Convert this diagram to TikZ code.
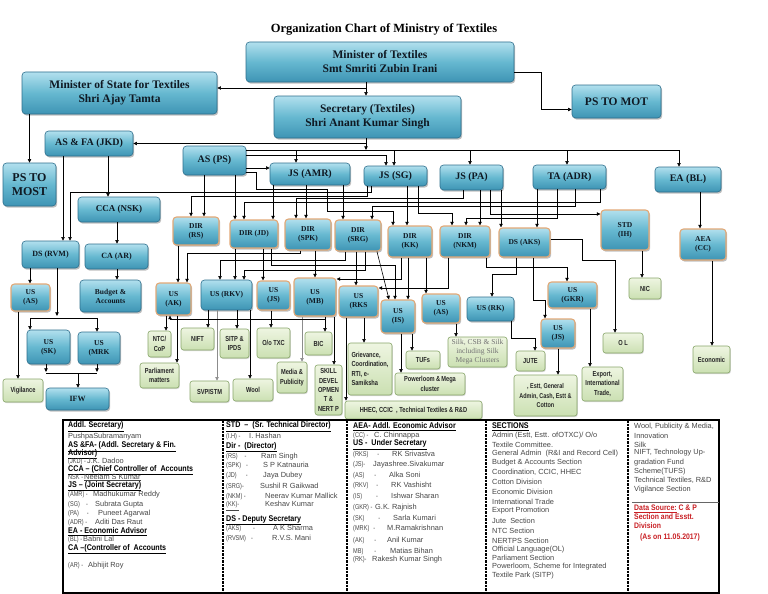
\documentclass[tikz,border=0pt]{standalone}
\usepackage{fontspec}
\setmainfont{Liberation Serif}
\newfontfamily\lsans{Liberation Sans}
\newfontfamily\gfont[FakeStretch=0.78]{Liberation Sans}
\newfontfamily\hfont[FakeStretch=0.86]{Liberation Sans}
\newfontfamily\lnarrow[FakeStretch=0.8]{Liberation Sans}
\usetikzlibrary{arrows.meta,shadows}
\definecolor{bT}{RGB}{178,224,238}
\definecolor{bM}{RGB}{102,184,208}
\definecolor{bB}{RGB}{62,148,180}
\definecolor{bD}{RGB}{45,110,140}
\definecolor{oB}{RGB}{226,168,118}
\definecolor{gT}{RGB}{238,245,225}
\definecolor{gB}{RGB}{203,224,178}
\definecolor{gD}{RGB}{135,165,105}
\definecolor{lgray}{RGB}{70,70,70}
\definecolor{dred}{RGB}{200,30,35}
\definecolor{txt}{RGB}{15,25,35}
\newcommand\legrow[3]{\makebox[#1pt][l]{\lnarrow\fontsize{7}{8}\selectfont #2}#3}
\begin{document}
\begin{tikzpicture}[x=1pt,y=-1pt,
 wh/.style 2 args={minimum width=#1pt,minimum height=#2pt},
 bb/.style={rounded corners=3.5pt, draw=bD, line width=0.6pt, top color=bT, bottom color=bB, middle color=bM, inner sep=1pt, align=center, text=txt, font=\bfseries\fontsize{7.5}{9}\selectfont, drop shadow={shadow xshift=1.2pt,shadow yshift=-1.6pt,opacity=0.5}},
 ob/.style={bb, draw=oB, line width=1.1pt},
 gb/.style={rounded corners=2.5pt, draw=gD, line width=0.6pt, top color=gT, bottom color=gB, inner sep=0.5pt, align=center, text=black!85, font=\gfont\bfseries\fontsize{7.3}{9.3}\selectfont, drop shadow={shadow xshift=0.8pt,shadow yshift=-1pt,opacity=0.3}},
 fbig/.style={font=\bfseries\fontsize{11.5}{14}\selectfont},
 fmed/.style={font=\bfseries\fontsize{10}{12}\selectfont},
 arr/.style={-{Triangle[length=3.6pt,width=3.4pt]}, line width=0.6pt},
 ln/.style={line width=0.6pt},
 gl/.style={arr, draw=black!45},
 lt/.style={anchor=west, inner sep=0pt, text=lgray, font=\lsans\fontsize{7.4}{8}\selectfont},
 lh/.style={anchor=west, inner sep=0pt, text=black, font=\hfont\bfseries\fontsize{8.3}{9}\selectfont},
 lr/.style={lh, text=dred, font=\hfont\bfseries\fontsize{8}{9}\selectfont},
]
\useasboundingbox (0,0) rectangle (768,594);

\node[font=\bfseries\fontsize{12.5}{15}\selectfont] (title) at (384,29) {Organization Chart of Ministry of Textiles};

% top level
\node[bb,fbig,wh={268}{40}] (min) at (380,62) {Minister of Textiles\\Smt Smriti Zubin Irani};
\node[bb,fbig,wh={195}{42}] (mos) at (119.5,93) {Minister of State for Textiles\\Shri Ajay Tamta};
\node[bb,fbig,wh={187}{42}] (sec) at (367.5,117) {Secretary (Textiles)\\Shri Anant Kumar Singh};
\node[bb,fbig,wh={89}{33}] (psmot) at (616.5,101.5) {PS TO MOT};
\node[bb,font=\bfseries\fontsize{12}{14}\selectfont,wh={53}{43}] (psmost) at (29.5,184.5) {PS TO\\MOST};
\node[bb,fmed,wh={88}{25}] (asfa) at (89,143.5) {AS \& FA (JKD)};
\node[bb,fmed,wh={63}{29}] (asps) at (214.5,160.5) {AS (PS)};
\node[bb,fmed,wh={80}{22}] (jsamr) at (310,174) {JS (AMR)};
\node[bb,fmed,wh={63}{20}] (jssg) at (395.5,176) {JS (SG)};
\node[bb,fmed,wh={63}{25}] (jspa) at (471.5,177.5) {JS (PA)};
\node[bb,fmed,wh={73}{24}] (taadr) at (569.5,177) {TA (ADR)};
\node[bb,fmed,wh={66}{25}] (eabl) at (688,179.5) {EA (BL)};

% left group
\node[bb,font=\bfseries\fontsize{9}{11}\selectfont,wh={82}{25}] (ccansk) at (119,209.5) {CCA (NSK)};
\node[bb,font=\bfseries\fontsize{8}{10}\selectfont,wh={57}{27}] (dsrvm) at (50.5,254.5) {DS (RVM)};
\node[bb,font=\bfseries\fontsize{8}{10}\selectfont,wh={63}{25}] (caar) at (116.5,256.5) {CA (AR)};
\node[bb,wh={61}{32}] (budget) at (110.5,296) {Budget \&\\Accounts};
\node[ob,wh={39}{27}] (usasl) at (30.5,297.5) {US\\(AS)};
\node[bb,wh={43}{34}] (ussk) at (48.5,347) {US\\(SK)};
\node[bb,wh={42}{32}] (usmrk) at (99,348) {US\\(MRK};
\node[bb,font=\bfseries\fontsize{8}{10}\selectfont,wh={63}{22}] (ifw) at (77.5,399) {IFW};

% DIR row
\node[ob,wh={46}{28}] (dirrs) at (196,231) {DIR\\(RS)};
\node[ob,wh={48}{28}] (dirjd) at (254,234) {DIR (JD)};
\node[ob,wh={46}{31}] (dirspk) at (308,234.5) {DIR\\(SPK)};
\node[ob,wh={46}{31}] (dirsrg) at (358,235.5) {DIR\\(SRG)};
\node[ob,wh={44}{31}] (dirkk) at (410,241.5) {DIR\\(KK)};
\node[ob,wh={50}{31}] (dirnkm) at (465,241.5) {DIR\\(NKM)};
\node[ob,wh={51}{29}] (dsaks) at (524.5,242.5) {DS (AKS)};
\node[ob,wh={48}{40}] (stdih) at (625,230) {STD\\(IH)};
\node[ob,wh={46}{31}] (aeacc) at (703,244.5) {AEA\\(CC)};

% US row
\node[ob,wh={35}{32}] (usak) at (173.5,299) {US\\(AK)};
\node[bb,wh={51}{30}] (usrkv) at (226.5,295) {US (RKV)};
\node[ob,wh={33}{29}] (usjs) at (273.5,295.5) {US\\(JS)};
\node[ob,wh={42}{38}] (usmb) at (315,297) {US\\(MB)};
\node[ob,wh={39}{31}] (usrks) at (358.5,301.5) {US\\(RKS};
\node[ob,wh={34}{33}] (usis) at (398,316.5) {US\\(IS)};
\node[ob,wh={38}{29}] (usasm) at (441,308.5) {US\\(AS)};
\node[bb,wh={47}{24}] (usrk) at (490.5,309) {US (RK)};
\node[ob,wh={49}{26}] (usgkr) at (572.5,295) {US\\(GKR)};
\node[ob,wh={34}{29}] (usjsr) at (558,333.5) {US\\(JS)};

% sections (green)
\node[gb,wh={23}{26}] (ntc) at (159.5,344) {NTC/\\CoP};
\node[gb,wh={39}{25}] (parl) at (159.5,375.5) {Parliament\\matters};
\node[gb,wh={33}{22}] (nift) at (197.5,339) {NIFT};
\node[gb,wh={29}{29}] (sitp) at (234.5,343.5) {SITP \&\\IPDS};
\node[gb,wh={39}{21}] (svp) at (209.5,391.5) {SVPISTM};
\node[gb,wh={40}{22}] (wool) at (253,390) {Wool};
\node[gb,wh={33}{30}] (ootxc) at (273.5,343) {O/o TXC};
\node[gb,wh={27}{23}] (bic) at (318.5,343.5) {BIC};
\node[gb,wh={30}{31}] (media) at (292,377.5) {Media \&\\Publicity};
\node[gb,wh={27}{50}] (skill) at (328.5,390) {SKILL\\DEVEL\\OPMEN\\T \&\\NERT P};
\node[gb,wh={44}{52},align=left] (griev) at (370,369) {Grievance,\\Coordination,\\RTI, e-\\Samiksha};
\node[gb,wh={34}{18}] (tufs) at (423,360) {TUFs};
\node[gb,wh={70}{22}] (power) at (430,384) {Powerloom\,\&\,Mega\\cluster};
\node[gb,wh={59}{30},font=\fontsize{7.5}{9}\selectfont,text=black!55] (silk) at (477.5,352) {Silk, CSB \& Silk\\including Silk\\Mega Clusters};
\node[gb,wh={137}{18}] (hhec) at (413.5,410) {HHEC, CCIC\ \ , Technical Textiles \& R\&D};
\node[gb,wh={29}{20}] (jute) at (530.5,361) {JUTE};
\node[gb,wh={63}{41},font=\gfont\bfseries\fontsize{7}{9.3}\selectfont] (estt) at (545.5,395.5) {, Estt, General\\Admin, Cash, Estt \&\\Cotton};
\node[gb,wh={41}{34}] (export) at (602.5,384) {Export,\\International\\Trade,};
\node[gb,wh={40}{20}] (ol) at (623,343) {O L};
\node[gb,wh={32}{21}] (nic) at (645,288.5) {NIC};
\node[gb,wh={37}{27}] (eco) at (711.5,359.5) {Economic};
\node[gb,wh={40}{23}] (vig) at (23,390.5) {Vigilance};

% ---------- connectors ----------
\coordinate (j1) at (366,88);
\coordinate (j2) at (366,143.5);
\draw[arr] (min.south -| 366,0) -- (sec.north -| 366,0);
\draw[arr] (j1) -- (mos.east |- j1);
\draw[arr] ([yshift=-10pt]min.east) -- ++(27,0) |- ([yshift=-8pt]psmot.west);
\draw[arr] (mos.south -| psmost.north) -- (psmost.north);
\draw[arr] (sec.south -| 366,0) -- (j2) -- (asfa.east);
\draw[arr] (j2) -- (366,150);
\draw[ln] (asps.east |- 0,150) -- (679,150);
\draw[arr] (296,150) -- (jsamr.north -| 296,0);
\draw[arr] (394,150) -- (jssg.north -| 394,0);
\draw[arr] (470,150) -- (jspa.north -| 470,0);
\draw[arr] (567,150) -- (taadr.north -| 567,0);
\draw[arr] (679,150) -- (eabl.north -| 679,0);
\draw[arr] (asps.east |- 0,155) -- (386,155) -- (jssg.north -| 386,0);
\draw[arr] (asps.east |- 0,168) -- (jsamr.west |- 0,168);

% left group
\draw[arr] (asfa.south -| 63,0) -- (dsrvm.north -| 63,0);
\draw[arr] (asfa.south -| 108,0) -- (ccansk.north -| 108,0);
\draw[arr] (ccansk.south -| 117,0) -- (caar.north -| 117,0);
\draw[arr] (caar.south -| 117,0) -- (budget.north -| 117,0);
\draw[arr] (dsrvm.south -| 30,0) -- (usasl.north -| 30,0);
\draw[arr] (dsrvm.south -| 57,0) -- (57,316);
\draw[ln] (30,318) -- (97,318);
\draw[arr] (30,318) -- (ussk.north -| 30,0);
\draw[arr] (97,318) -- (usmrk.north -| 97,0);
\draw[arr] (ussk.south -| 46,0) -- (46,372);
\draw[arr] (usmrk.south -| 97,0) -- (97,372);
\draw[ln] (46,373) -- (97,373);
\draw[arr] (78,373) -- (ifw.north -| 78,0);
\draw[arr] (usasl.south -| 18,0) -- (vig.north -| 18,0);

% JS -> DIR
\draw[arr] (asps.south -| 204,0) -- (dirrs.north -| 204,0);
\draw[arr] (asps.south -| 235,0) -- (dirjd.north -| 235,0);
\draw[arr] (asps.east |- 0,172) -- (256,172) -- (256,189) -- (327,189) -- (327,211) -| (dirkk.north -| 393,0);
\draw[arr] (jsamr.south -| 273,0) -- (dirjd.north -| 273,0);
\draw[arr] (jsamr.south -| 306,0) -- (dirspk.north -| 306,0);
\draw[arr] (jsamr.south -| 343,0) -- (dirsrg.north -| 343,0);
\draw[arr] (jssg.south -| 367,0) -- (367,196) -| (dirrs.north -| 191,0);
\draw[arr] (jssg.south -| 371,0) -- (371,192) -| (dsrvm.north -| 70,0);
\draw[arr] (jssg.south -| 407,0) -- (dirkk.north -| 407,0);
\draw[arr] (jssg.south -| 418,0) -- (418,213) -| (dirnkm.north -| 452,0);
\draw[arr] (jspa.south -| 463,0) -- (463,198) -| (dirspk.north -| 296,0);
\draw[arr] (jspa.south -| 480,0) -- (dirnkm.north -| 480,0);
\draw[arr] (jspa.south -| 490,0) |- (stdih.west |- 0,214);
\draw[arr] (jspa.south -| 501,0) -- (dsaks.north -| 501,0);
\draw[arr] (taadr.south -| 537,0) -- (dsaks.north -| 537,0);
\draw[arr] (taadr.south -| 557,0) -- (557,218) -| (dirnkm.north -| 466,0);
\draw[arr] (taadr.south -| 575,0) -- (575,206) -| (dirsrg.north -| 372,0);
\draw[arr] (taadr.south -| 600,0) -- (600,202) -| (dirjd.north -| 244,0);

% DIR -> US
\draw[arr] (dirrs.south -| 178,0) -- (usak.north -| 178,0);
\draw[arr] (dirspk.south -| 300,0) -- (300,253) -| (usak.north -| 187,0);
\draw[arr] (dirjd.south -| 235,0) -- (usrkv.north -| 235,0);
\draw[arr] (dirjd.south -| 263,0) -- (usjs.north -| 263,0);
\draw[arr] (dirjd.south -| 271,0) -- (271,265) -| (usis.north -| 395,0);
\draw[arr] (dirspk.south -| 315,0) -- (usmb.north -| 315,0);
\draw[arr] (dirsrg.south -| 345,0) -- (345,260) -| (usrkv.north -| 220,0);
\draw[arr] (dirsrg.south -| 356,0) -- (usrks.north -| 356,0);
\draw[arr] (dirsrg.south -| 365,0) -- (365,270) -| (usrkv.north -| 244,0);
\draw[arr] (dirsrg.south -| 377,0) -- (usis.north -| 389,0);
\draw[arr] (dirkk.south -| 401,0) -- (401,279) -- (usmb.east |- 0,279);
\draw[arr] (dirkk.south -| 408,0) -- (usis.north -| 408,0);
\draw[arr] (dirkk.south -| 426,0) -- (usasm.north -| 426,0);
\draw[arr] (dirnkm.south -| 448,0) -- (448,288) -- (usrks.east |- 0,288);
\draw[arr] (dirnkm.south -| 486,0) -- (486,267) -| (usgkr.north -| 567,0);
\draw[arr] (dsaks.south -| 516,0) -- (516,274) -| (usrk.north -| 492,0);
\draw[arr] (dsaks.south -| 533,0) -- (533,300) -| (usjsr.north -| 545,0);
\draw[arr] (dsaks.east |- 0,239) -- (582,239) -- (582,260) -| (ol.north -| 615,0);

% US -> sections
\draw[arr] (usak.south -| 166,0) -- (ntc.north -| 166,0);
\draw[arr] (usak.south -| 177,0) -- (parl.north -| 177,0);
\draw[arr] (usrkv.south -| 208,0) -- (nift.north -| 208,0);
\draw[gl] (usrkv.south -| 217,0) -- (svp.north -| 217,0);
\draw[arr] (usrkv.south -| 237,0) -- (sitp.north -| 237,0);
\draw[arr] (usrkv.south -| 250,0) -- (wool.north -| 250,0);
\draw[arr] (usjs.south -| 271,0) -- (ootxc.north -| 271,0);
\draw[gl] (usmb.south -| 302,0) -- (media.north -| 302,0);
\draw[arr] (usmb.south -| 334,0) -- (skill.north -| 334,0);
\draw[arr] (usmb.south -| 325,0) -- (bic.north -| 325,0);
\draw[arr] (325,319) -- (170,319) -- (usak.south -| 170,0);
\draw[arr] (usrks.south -| 364,0) -- (griev.north -| 364,0);
\draw[arr] (usrks.south -| 346,0) -- (hhec.north -| 346,0);
\draw[arr] (usis.south -| 401,0) -- (power.north -| 401,0);
\draw[arr] (usis.south -| 412,0) -- (tufs.north -| 412,0);
\draw[arr] (usasm.south -| 456,0) -- (silk.north -| 456,0);
\draw[arr] (usrk.south -| 511,0) -- (511,338) -| (jute.north -| 535,0);
\draw[arr] (usjsr.south -| 558,0) -- (estt.north -| 558,0);
\draw[arr] (usgkr.south -| 590,0) -- (export.north -| 590,0);
\draw[arr] (stdih.south -| 642,0) -- (nic.north -| 642,0);
\draw[arr] (eabl.south -| 700,0) -- (aeacc.north -| 700,0);
\draw[arr] (aeacc.south -| 712,0) -- (eco.north -| 712,0);

% ---------- legend ----------
\draw[line width=1.8pt] (63,420) rectangle (719,593);
\foreach \x in {223,347,486,628}
  \draw[line width=1.6pt, dash pattern=on 2.5pt off 1pt] (\x,420) -- (\x,593);

% column 1
\node[lh] (c1a) at (68,426.5) {\underline{Addl. Secretary)}};
\node[lt] (c1b) at (68,437) {PushpaSubramanyam};
\node[lh] (c1c) at (68,446.5) {\underline{AS \&FA- (Addl. Secretary \& Fin.}};
\node[lh] (c1d) at (68,454) {\underline{Advisor)}};
\node[lt] (c1e) at (68,461.5) {\legrow{19}{(JKD)\ -}{J.K. Dadoo}};
\node[lh] (c1f) at (68,470) {\underline{CCA – (Chief Controller of\ \ Accounts}};
\node[lt] (c1g) at (68,477.5) {\legrow{16}{NSK\ -}{\underline{Neelam S Kumar}}};
\node[lh] (c1h) at (68,486) {\underline{JS – (Joint Secretary)}};
\node[lt] (c1i) at (68,495) {\legrow{25}{(AMR) -}{Madhukumar Reddy}};
\node[lt] (c1j) at (68,504.5) {\legrow{27}{(SG)\hspace{6pt}-}{Subrata Gupta}};
\node[lt] (c1k) at (68,513.5) {\legrow{30}{(PA)\hspace{8pt}-}{Puneet Agarwal}};
\node[lt] (c1l) at (68,523) {\legrow{27}{(ADR) -}{Aditi Das Raut}};
\node[lh] (c1m) at (68,532) {\underline{EA - Economic Advisor}};
\node[lt] (c1n) at (68,540) {\legrow{15}{(BL) -}{Babni Lal}};
\node[lh] (c1o) at (68,549) {\underline{CA –(Controller of\ \ Accounts}};
\node[lt] (c1p) at (68,566) {\legrow{20}{(AR)\ -}{Abhijit Roy}};

% column 2
\node[lh] (c2a) at (226,426.5) {\underline{STD\ \ –\ \ (Sr. Technical Director)}};
\node[lt] (c2b) at (226,436.5) {\legrow{23}{(I.H)\ -}{I. Hashan}};
\node[lh] (c2c) at (226,447) {\underline{Dir - \ (Director)}};
\node[lt] (c2d) at (226,457) {\legrow{35}{(RS)\hspace{7pt}-}{Ram Singh}};
\node[lt] (c2e) at (226,466) {\legrow{37}{(SPK)\hspace{5pt}-}{S P Katnauria}};
\node[lt] (c2f) at (226,476) {\legrow{37}{(JD)\hspace{9pt}-}{Jaya Dubey}};
\node[lt] (c2g) at (226,487) {\legrow{34}{(SRG)-}{Sushil R Gaikwad}};
\node[lt] (c2h) at (226,497) {\legrow{39}{(NKM) -}{Neerav Kumar Mallick}};
\node[lt] (c2i) at (226,506) {\legrow{39}{\underline{(KK)-}}{Keshav Kumar}};
\node[lh] (c2j) at (226,520) {\underline{DS - Deputy Secretary}};
\node[lt] (c2k) at (226,529) {\legrow{47}{(AKS)\hspace{12pt}-}{A K Sharma}};
\node[lt] (c2l) at (226,539) {\legrow{46}{(RVSM)\hspace{5pt}-}{R.V.S. Mani}};

% column 3
\node[lh] (c3a) at (353,426.5) {\underline{AEA- Addl. Economic Advisor}};
\node[lt] (c3b) at (353,436) {\legrow{21}{(CC)\ -}{C. Chinnappa}};
\node[lh] (c3c) at (353,444.5) {\underline{US -\ \ Under Secretary}};
\node[lt] (c3d) at (353,454.5) {\legrow{39}{(RKS)\hspace{9pt}-}{RK Srivastva}};
\node[lt] (c3e) at (353,465) {\legrow{20}{(JS)-}{Jayashree.Sivakumar}};
\node[lt] (c3f) at (353,476) {\legrow{36}{(AS)\hspace{10pt}-}{Alka Soni}};
\node[lt] (c3g) at (353,486) {\legrow{38}{(RKV)\hspace{8pt}-}{RK Vashisht}};
\node[lt] (c3h) at (353,497) {\legrow{38}{(IS)\hspace{14pt}-}{Ishwar Sharan}};
\node[lt] (c3i) at (353,508) {\legrow{22}{(GKR)\ -}{G.K. Rajnish}};
\node[lt] (c3j) at (353,519) {\legrow{40}{(SK)\hspace{14pt}-}{Sarla Kumari}};
\node[lt] (c3k) at (353,529) {\legrow{34}{(MRK)\hspace{4pt}-}{M.Ramakrishnan}};
\node[lt] (c3l) at (353,541) {\legrow{34}{(AK)\hspace{10pt}-}{Anil Kumar}};
\node[lt] (c3m) at (353,551.5) {\legrow{37}{MB)\hspace{11pt}-}{Matias Bihan}};
\node[lt] (c3n) at (353,560) {\legrow{19}{(RK)-}{Rakesh Kumar Singh}};

% column 4
\node[lh] (c4a) at (492,426.5) {\underline{SECTIONS}};
\node[lt] (c4b) at (492,436) {Admin (Estt, Estt. ofOTXC)/ O/o};
\node[lt] (c4c) at (492,444.5) {Textile Committee.};
\node[lt] (c4d) at (492,454) {General Admin\ \ (R\&I and Record Cell)};
\node[lt] (c4e) at (492,463) {Budget \& Accounts Section};
\node[lt] (c4f) at (492,472) {Coordination, CCIC, HHEC};
\node[lt] (c4g) at (492,482) {Cotton Division};
\node[lt] (c4h) at (492,492) {Economic Division};
\node[lt] (c4i) at (492,502) {International Trade};
\node[lt] (c4j) at (492,511) {Export Promotion};
\node[lt] (c4k) at (492,521) {Jute\ \ Section};
\node[lt] (c4l) at (492,531) {NTC Section};
\node[lt] (c4m) at (492,541) {NERTPS Section};
\node[lt] (c4n) at (492,550) {Official Language(OL)};
\node[lt] (c4o) at (492,557.5) {Parliament Section};
\node[lt] (c4p) at (492,567) {Powerloom, Scheme for Integrated};
\node[lt] (c4q) at (492,576) {Textile Park (SITP)};

% column 5
\node[lt] (c5a) at (634,426.5) {Wool, Publicity \& Media,};
\node[lt] (c5b) at (634,436) {Innovation};
\node[lt] (c5c) at (634,444.5) {Silk};
\node[lt] (c5d) at (634,453) {NIFT, Technology Up-};
\node[lt] (c5e) at (634,463) {gradation Fund};
\node[lt] (c5f) at (634,472) {Scheme(TUFS)};
\node[lt] (c5g) at (634,480.5) {Technical Textiles, R\&D};
\node[lt] (c5h) at (634,489.5) {Vigilance Section};
\draw[line width=0.5pt, black!60] (632,502) -- (719,502);
\node[lr] (c5i) at (634,508.5) {\underline{Data Source:} C \& P};
\node[lr] (c5j) at (634,517) {Section and Esstt.};
\node[lr] (c5k) at (634,526) {Division};
\node[lr] (c5l) at (640,537) {(As on 11.05.2017)};
\end{tikzpicture}
\end{document}
